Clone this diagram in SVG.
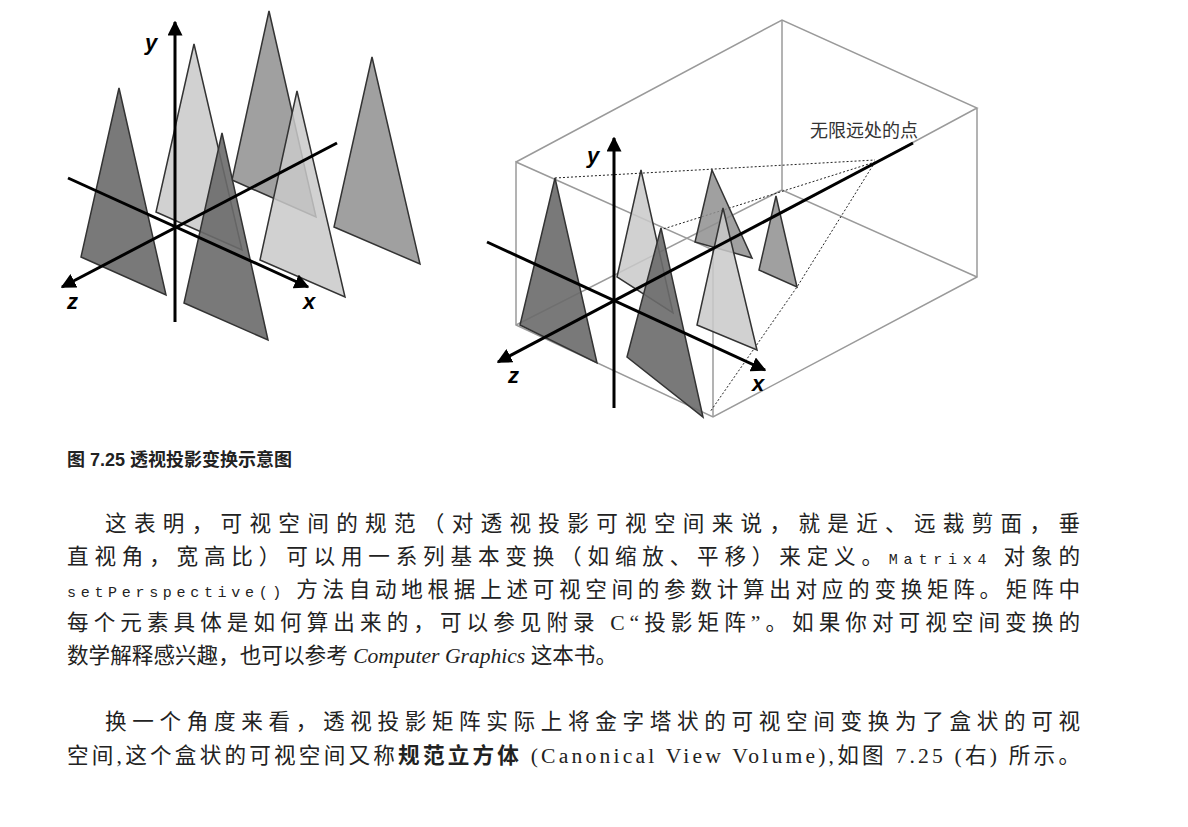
<svg xmlns="http://www.w3.org/2000/svg" width="1188" height="827" viewBox="0 0 1188 827">
<style>
.dk{fill:#6a6a6a;stroke:#333;stroke-width:1.5;fill-opacity:.9}
.md{fill:#8f8f8f;stroke:#333;stroke-width:1.5;fill-opacity:.85}
.lt{fill:#c9c9c9;stroke:#333;stroke-width:1.5;fill-opacity:.85}
.ax{stroke:#000;stroke-width:3;fill:none}
.box{stroke:#9a9a9a;stroke-width:1.5;fill:none}
.dot{stroke:#222;stroke-width:1;stroke-dasharray:2 2;fill:none}
.al{font-family:"Liberation Sans",Arial,sans-serif;font-weight:bold;font-style:italic;font-size:22px}
.body{font-family:"Liberation Serif","Noto Sans CJK SC",serif;font-size:21.6px;fill:#222}
.mono{font-family:"Liberation Mono",monospace;font-size:15px}
</style>
<defs><marker id="ar" viewBox="0 0 10 10" refX="9" refY="5" markerWidth="5" markerHeight="5" orient="auto"><path d="M0,0L10,5L0,10z" fill="#000"/></marker></defs>
<rect width="1188" height="827" fill="#fff"/>
<g id="left">
<polygon class="md" points="269,11 232,180 316,217"/>
<polygon class="md" points="372,57 334,227 420,264"/>
<polygon class="lt" points="194,44 156,212 242,250"/>
<polygon class="dk" points="119,88 81,257 166,295"/>
<polygon class="lt" points="297,91 260,260 345,297"/>
<polygon class="dk" points="222,133 184,303 268,340"/>
<line class="ax" x1="175" y1="322" x2="175" y2="22" marker-end="url(#ar)"/>
<line class="ax" x1="68" y1="178" x2="308" y2="287" stroke-width="2.5" marker-end="url(#ar)"/>
<line class="ax" x1="337" y1="143" x2="62" y2="287" stroke-width="2.5" marker-end="url(#ar)"/>
<text class="al" x="145" y="50">y</text><text class="al" x="67" y="309">z</text><text class="al" x="303" y="309">x</text>
</g>
<g id="right">
<g class="box">
<polyline points="516,162 782,20 977,108 713,250 516,162 516,325 713,417 977,277 977,108"/>
<line x1="713" y1="250" x2="713" y2="417"/>
<polyline points="782,20 782,190 977,277"/>
<line x1="782" y1="190" x2="516" y2="325"/>
</g>
<g class="dot">
<line x1="555" y1="178" x2="875" y2="160"/>
<line x1="660" y1="230" x2="875" y2="162"/>
<polyline points="875,162 797,287 710,412"/>
</g>
<polygon class="md" points="776,196 759,270 797,287"/>
<polygon class="md" points="712,170 695,242 752,258"/>
<polygon class="lt" points="641,170 617,277 673,313"/>
<polygon class="lt" points="723,208 697,325 757,350"/>
<polygon class="dk" points="555,178 520,325 597,363"/>
<polygon class="dk" points="661,228 627,357 703,417"/>
<line class="ax" x1="614" y1="408" x2="614" y2="138" marker-end="url(#ar)"/>
<line class="ax" x1="487" y1="242" x2="765" y2="370" stroke-width="2.5" marker-end="url(#ar)"/>
<line class="ax" x1="913" y1="143" x2="498" y2="362" stroke-width="2.5" marker-end="url(#ar)"/>
<text class="al" x="587" y="163">y</text><text class="al" x="508" y="383">z</text><text class="al" x="752" y="391">x</text>
<text x="810" y="137" font-family="Noto Sans CJK SC,sans-serif" font-size="18" fill="#333">无限远处的点</text>
</g>
<g id="text">
<text x="67" y="466" font-family="Liberation Sans,Noto Sans CJK SC,sans-serif" font-size="18" font-weight="bold" fill="#222">图 7.25  透视投影变换示意图</text>
<text class="body" x="105" y="531" textLength="975" lengthAdjust="spacing">这表明，可视空间的规范（对透视投影可视空间来说，就是近、远裁剪面，垂</text>
<text class="body" x="67" y="564" textLength="1013" lengthAdjust="spacing">直视角，宽高比）可以用一系列基本变换（如缩放、平移）来定义。<tspan class="mono">Matrix4</tspan> 对象的</text>
<text class="body" x="67" y="597" textLength="1013" lengthAdjust="spacing"><tspan class="mono">setPerspective()</tspan> 方法自动地根据上述可视空间的参数计算出对应的变换矩阵。矩阵中</text>
<text class="body" x="67" y="630" textLength="1013" lengthAdjust="spacing">每个元素具体是如何算出来的，可以参见附录 C“投影矩阵”。如果你对可视空间变换的</text>
<text class="body" x="67" y="663">数学解释感兴趣，也可以参考 <tspan font-style="italic">Computer Graphics</tspan> 这本书。</text>
<text class="body" x="105" y="729" textLength="975" lengthAdjust="spacing">换一个角度来看，透视投影矩阵实际上将金字塔状的可视空间变换为了盒状的可视</text>
<text class="body" x="67" y="763" textLength="1013" lengthAdjust="spacing">空间,这个盒状的可视空间又称<tspan font-weight="bold" font-family="Noto Sans CJK SC,sans-serif">规范立方体</tspan> (Canonical View Volume),如图 7.25 (右) 所示。</text>
</g>
</svg>
